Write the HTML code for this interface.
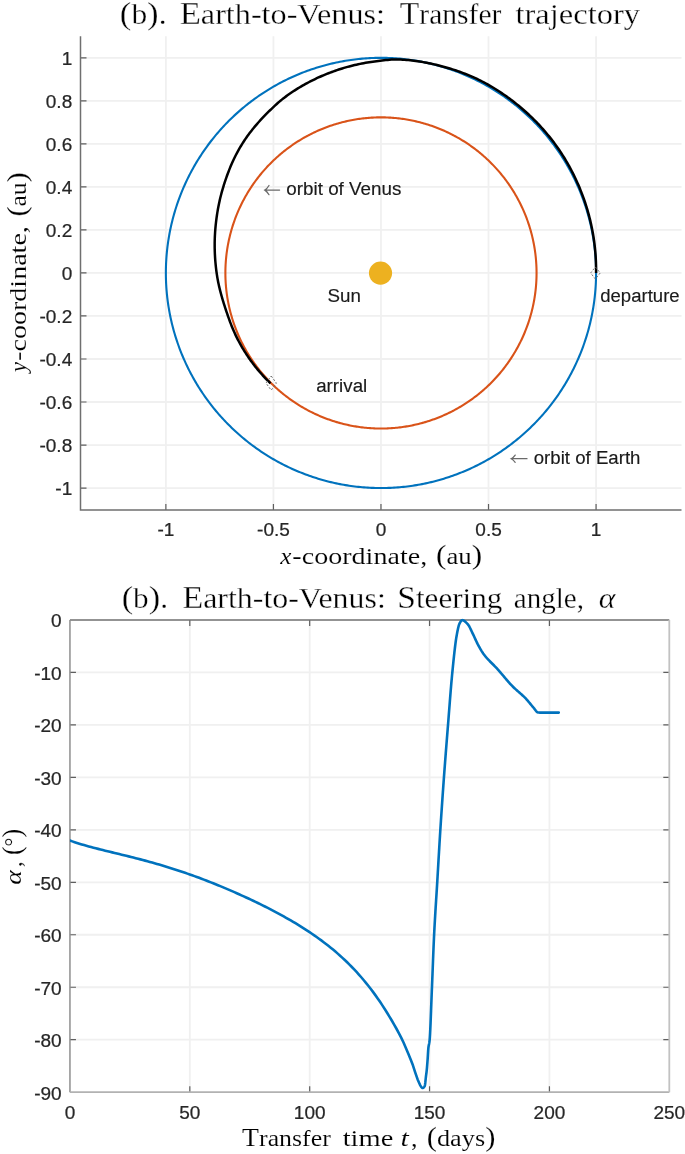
<!DOCTYPE html>
<html><head><meta charset="utf-8"><title>Earth-to-Venus</title>
<style>html,body{margin:0;padding:0;background:#fff;width:685px;height:1154px;overflow:hidden}svg{display:block}</style>
</head><body>
<svg width="685" height="1154" viewBox="0 0 685 1154">
<rect width="685" height="1154" fill="#fff"/>
<path d="M165.87 36.30V509.90M273.42 36.30V509.90M380.97 36.30V509.90M488.52 36.30V509.90M596.07 36.30V509.90M80.50 57.85H681.50M80.50 100.87H681.50M80.50 143.89H681.50M80.50 186.91H681.50M80.50 229.93H681.50M80.50 272.95H681.50M80.50 315.97H681.50M80.50 358.99H681.50M80.50 402.01H681.50M80.50 445.03H681.50M80.50 488.05H681.50" stroke="#f0f0f0" stroke-width="1.8" fill="none"/>
<polyline points="596.07,272.95 596.06,271.07 596.04,269.20 596.00,267.32 595.94,265.44 595.87,263.57 595.78,261.69 595.67,259.82 595.55,257.95 595.41,256.07 595.25,254.20 595.08,252.33 594.89,250.47 594.69,248.60 594.47,246.74 594.23,244.87 593.98,243.01 593.71,241.16 593.42,239.30 593.12,237.45 592.80,235.60 592.47,233.75 592.12,231.91 591.75,230.07 591.37,228.23 590.97,226.39 590.56,224.56 590.13,222.74 589.68,220.91 589.22,219.09 588.74,217.28 588.25,215.47 587.74,213.66 587.21,211.86 586.67,210.06 586.11,208.27 585.54,206.48 584.95,204.70 584.35,202.92 583.73,201.15 583.10,199.38 582.45,197.62 581.78,195.87 581.10,194.12 580.41,192.37 579.70,190.63 578.97,188.90 578.23,187.18 577.47,185.46 576.70,183.75 575.92,182.04 575.12,180.35 574.30,178.66 573.47,176.97 572.63,175.30 571.77,173.63 570.89,171.97 570.00,170.31 569.10,168.67 568.18,167.03 567.25,165.40 566.31,163.78 565.35,162.17 564.37,160.56 563.39,158.96 562.38,157.38 561.37,155.80 560.34,154.23 559.30,152.67 558.24,151.12 557.17,149.57 556.09,148.04 554.99,146.52 553.88,145.00 552.76,143.50 551.62,142.01 550.47,140.52 549.31,139.05 548.13,137.58 546.95,136.13 545.75,134.69 544.53,133.25 543.31,131.83 542.07,130.42 540.82,129.02 539.56,127.63 538.28,126.25 537.00,124.88 535.70,123.53 534.39,122.18 533.07,120.85 531.74,119.53 530.39,118.22 529.04,116.92 527.67,115.64 526.29,114.36 524.90,113.10 523.50,111.85 522.09,110.61 520.67,109.39 519.23,108.17 517.79,106.97 516.34,105.79 514.87,104.61 513.40,103.45 511.91,102.30 510.42,101.16 508.92,100.04 507.40,98.93 505.88,97.83 504.35,96.75 502.80,95.68 501.25,94.62 499.69,93.58 498.12,92.55 496.54,91.54 494.96,90.53 493.36,89.55 491.75,88.57 490.14,87.61 488.52,86.67 486.89,85.74 485.25,84.82 483.61,83.92 481.95,83.03 480.29,82.15 478.62,81.29 476.95,80.45 475.26,79.62 473.57,78.80 471.88,78.00 470.17,77.22 468.46,76.45 466.74,75.69 465.02,74.95 463.29,74.22 461.55,73.51 459.80,72.82 458.05,72.14 456.30,71.47 454.54,70.82 452.77,70.19 451.00,69.57 449.22,68.97 447.44,68.38 445.65,67.81 443.86,67.25 442.06,66.71 440.26,66.18 438.45,65.67 436.64,65.18 434.83,64.70 433.01,64.24 431.18,63.79 429.36,63.36 427.53,62.95 425.69,62.55 423.85,62.17 422.01,61.80 420.17,61.45 418.32,61.12 416.47,60.80 414.62,60.50 412.76,60.21 410.91,59.94 409.05,59.69 407.18,59.45 405.32,59.23 403.45,59.03 401.59,58.84 399.72,58.67 397.85,58.51 395.97,58.37 394.10,58.25 392.23,58.14 390.35,58.05 388.48,57.98 386.60,57.92 384.72,57.88 382.85,57.86 380.97,57.85 379.09,57.86 377.22,57.88 375.34,57.92 373.46,57.98 371.59,58.05 369.71,58.14 367.84,58.25 365.97,58.37 364.09,58.51 362.22,58.67 360.35,58.84 358.49,59.03 356.62,59.23 354.76,59.45 352.89,59.69 351.03,59.94 349.18,60.21 347.32,60.50 345.47,60.80 343.62,61.12 341.77,61.45 339.93,61.80 338.09,62.17 336.25,62.55 334.41,62.95 332.58,63.36 330.76,63.79 328.93,64.24 327.11,64.70 325.30,65.18 323.49,65.67 321.68,66.18 319.88,66.71 318.08,67.25 316.29,67.81 314.50,68.38 312.72,68.97 310.94,69.57 309.17,70.19 307.40,70.82 305.64,71.47 303.89,72.14 302.14,72.82 300.39,73.51 298.65,74.22 296.92,74.95 295.20,75.69 293.48,76.45 291.77,77.22 290.06,78.00 288.37,78.80 286.68,79.62 284.99,80.45 283.32,81.29 281.65,82.15 279.99,83.03 278.33,83.92 276.69,84.82 275.05,85.74 273.42,86.67 271.80,87.61 270.19,88.57 268.58,89.55 266.98,90.53 265.40,91.54 263.82,92.55 262.25,93.58 260.69,94.62 259.14,95.68 257.59,96.75 256.06,97.83 254.54,98.93 253.02,100.04 251.52,101.16 250.03,102.30 248.54,103.45 247.07,104.61 245.60,105.79 244.15,106.97 242.71,108.17 241.27,109.39 239.85,110.61 238.44,111.85 237.04,113.10 235.65,114.36 234.27,115.64 232.90,116.92 231.55,118.22 230.20,119.53 228.87,120.85 227.55,122.18 226.24,123.53 224.94,124.88 223.66,126.25 222.38,127.63 221.12,129.02 219.87,130.42 218.63,131.83 217.41,133.25 216.19,134.69 214.99,136.13 213.81,137.58 212.63,139.05 211.47,140.52 210.32,142.01 209.18,143.50 208.06,145.00 206.95,146.52 205.85,148.04 204.77,149.57 203.70,151.12 202.64,152.67 201.60,154.23 200.57,155.80 199.56,157.38 198.55,158.96 197.57,160.56 196.59,162.17 195.63,163.78 194.69,165.40 193.76,167.03 192.84,168.67 191.94,170.31 191.05,171.97 190.17,173.63 189.31,175.30 188.47,176.97 187.64,178.66 186.82,180.35 186.02,182.04 185.24,183.75 184.47,185.46 183.71,187.18 182.97,188.90 182.24,190.63 181.53,192.37 180.84,194.12 180.16,195.87 179.49,197.62 178.84,199.38 178.21,201.15 177.59,202.92 176.99,204.70 176.40,206.48 175.83,208.27 175.27,210.06 174.73,211.86 174.20,213.66 173.69,215.47 173.20,217.28 172.72,219.09 172.26,220.91 171.81,222.74 171.38,224.56 170.97,226.39 170.57,228.23 170.19,230.07 169.82,231.91 169.47,233.75 169.14,235.60 168.82,237.45 168.52,239.30 168.23,241.16 167.96,243.01 167.71,244.87 167.47,246.74 167.25,248.60 167.05,250.47 166.86,252.33 166.69,254.20 166.53,256.07 166.39,257.95 166.27,259.82 166.16,261.69 166.07,263.57 166.00,265.44 165.94,267.32 165.90,269.20 165.88,271.07 165.87,272.95 165.88,274.83 165.90,276.70 165.94,278.58 166.00,280.46 166.07,282.33 166.16,284.21 166.27,286.08 166.39,287.95 166.53,289.83 166.69,291.70 166.86,293.57 167.05,295.43 167.25,297.30 167.47,299.16 167.71,301.03 167.96,302.89 168.23,304.74 168.52,306.60 168.82,308.45 169.14,310.30 169.47,312.15 169.82,313.99 170.19,315.83 170.57,317.67 170.97,319.51 171.38,321.34 171.81,323.16 172.26,324.99 172.72,326.81 173.20,328.62 173.69,330.43 174.20,332.24 174.73,334.04 175.27,335.84 175.83,337.63 176.40,339.42 176.99,341.20 177.59,342.98 178.21,344.75 178.84,346.52 179.49,348.28 180.16,350.03 180.84,351.78 181.53,353.53 182.24,355.27 182.97,357.00 183.71,358.72 184.47,360.44 185.24,362.15 186.02,363.86 186.82,365.55 187.64,367.24 188.47,368.93 189.31,370.60 190.17,372.27 191.05,373.93 191.94,375.59 192.84,377.23 193.76,378.87 194.69,380.50 195.63,382.12 196.59,383.73 197.57,385.34 198.55,386.94 199.56,388.52 200.57,390.10 201.60,391.67 202.64,393.23 203.70,394.78 204.77,396.33 205.85,397.86 206.95,399.38 208.06,400.90 209.18,402.40 210.32,403.89 211.47,405.38 212.63,406.85 213.81,408.32 214.99,409.77 216.19,411.21 217.41,412.65 218.63,414.07 219.87,415.48 221.12,416.88 222.38,418.27 223.66,419.65 224.94,421.02 226.24,422.37 227.55,423.72 228.87,425.05 230.20,426.37 231.55,427.68 232.90,428.98 234.27,430.26 235.65,431.54 237.04,432.80 238.44,434.05 239.85,435.29 241.27,436.51 242.71,437.73 244.15,438.93 245.60,440.11 247.07,441.29 248.54,442.45 250.03,443.60 251.52,444.74 253.02,445.86 254.54,446.97 256.06,448.07 257.59,449.15 259.14,450.22 260.69,451.28 262.25,452.32 263.82,453.35 265.40,454.36 266.98,455.37 268.58,456.35 270.19,457.33 271.80,458.29 273.42,459.23 275.05,460.16 276.69,461.08 278.33,461.98 279.99,462.87 281.65,463.75 283.32,464.61 284.99,465.45 286.68,466.28 288.37,467.10 290.06,467.90 291.77,468.68 293.48,469.45 295.20,470.21 296.92,470.95 298.65,471.68 300.39,472.39 302.14,473.08 303.89,473.76 305.64,474.43 307.40,475.08 309.17,475.71 310.94,476.33 312.72,476.93 314.50,477.52 316.29,478.09 318.08,478.65 319.88,479.19 321.68,479.72 323.49,480.23 325.30,480.72 327.11,481.20 328.93,481.66 330.76,482.11 332.58,482.54 334.41,482.95 336.25,483.35 338.09,483.73 339.93,484.10 341.77,484.45 343.62,484.78 345.47,485.10 347.32,485.40 349.18,485.69 351.03,485.96 352.89,486.21 354.76,486.45 356.62,486.67 358.49,486.87 360.35,487.06 362.22,487.23 364.09,487.39 365.97,487.53 367.84,487.65 369.71,487.76 371.59,487.85 373.46,487.92 375.34,487.98 377.22,488.02 379.09,488.04 380.97,488.05 382.85,488.04 384.72,488.02 386.60,487.98 388.48,487.92 390.35,487.85 392.23,487.76 394.10,487.65 395.97,487.53 397.85,487.39 399.72,487.23 401.59,487.06 403.45,486.87 405.32,486.67 407.18,486.45 409.05,486.21 410.91,485.96 412.76,485.69 414.62,485.40 416.47,485.10 418.32,484.78 420.17,484.45 422.01,484.10 423.85,483.73 425.69,483.35 427.53,482.95 429.36,482.54 431.18,482.11 433.01,481.66 434.83,481.20 436.64,480.72 438.45,480.23 440.26,479.72 442.06,479.19 443.86,478.65 445.65,478.09 447.44,477.52 449.22,476.93 451.00,476.33 452.77,475.71 454.54,475.08 456.30,474.43 458.05,473.76 459.80,473.08 461.55,472.39 463.29,471.68 465.02,470.95 466.74,470.21 468.46,469.45 470.17,468.68 471.88,467.90 473.57,467.10 475.26,466.28 476.95,465.45 478.62,464.61 480.29,463.75 481.95,462.87 483.61,461.98 485.25,461.08 486.89,460.16 488.52,459.23 490.14,458.29 491.75,457.33 493.36,456.35 494.96,455.37 496.54,454.36 498.12,453.35 499.69,452.32 501.25,451.28 502.80,450.22 504.35,449.15 505.88,448.07 507.40,446.97 508.92,445.86 510.42,444.74 511.91,443.60 513.40,442.45 514.87,441.29 516.34,440.11 517.79,438.93 519.23,437.73 520.67,436.51 522.09,435.29 523.50,434.05 524.90,432.80 526.29,431.54 527.67,430.26 529.04,428.98 530.39,427.68 531.74,426.37 533.07,425.05 534.39,423.72 535.70,422.37 537.00,421.02 538.28,419.65 539.56,418.27 540.82,416.88 542.07,415.48 543.31,414.07 544.53,412.65 545.75,411.21 546.95,409.77 548.13,408.32 549.31,406.85 550.47,405.38 551.62,403.89 552.76,402.40 553.88,400.90 554.99,399.38 556.09,397.86 557.17,396.33 558.24,394.78 559.30,393.23 560.34,391.67 561.37,390.10 562.38,388.52 563.39,386.94 564.37,385.34 565.35,383.73 566.31,382.12 567.25,380.50 568.18,378.87 569.10,377.23 570.00,375.59 570.89,373.93 571.77,372.27 572.63,370.60 573.47,368.93 574.30,367.24 575.12,365.55 575.92,363.86 576.70,362.15 577.47,360.44 578.23,358.72 578.97,357.00 579.70,355.27 580.41,353.53 581.10,351.78 581.78,350.03 582.45,348.28 583.10,346.52 583.73,344.75 584.35,342.98 584.95,341.20 585.54,339.42 586.11,337.63 586.67,335.84 587.21,334.04 587.74,332.24 588.25,330.43 588.74,328.62 589.22,326.81 589.68,324.99 590.13,323.16 590.56,321.34 590.97,319.51 591.37,317.67 591.75,315.83 592.12,313.99 592.47,312.15 592.80,310.30 593.12,308.45 593.42,306.60 593.71,304.74 593.98,302.89 594.23,301.03 594.47,299.16 594.69,297.30 594.89,295.43 595.08,293.57 595.25,291.70 595.41,289.83 595.55,287.95 595.67,286.08 595.78,284.21 595.87,282.33 595.94,280.46 596.00,278.58 596.04,276.70 596.06,274.83 596.07,272.95" fill="none" stroke="#0072BD" stroke-width="2.1"/>
<polyline points="536.55,272.95 536.55,271.59 536.53,270.23 536.50,268.88 536.46,267.52 536.40,266.16 536.34,264.81 536.26,263.45 536.17,262.10 536.07,260.74 535.96,259.39 535.84,258.04 535.70,256.69 535.55,255.34 535.39,253.99 535.22,252.64 535.04,251.30 534.84,249.95 534.64,248.61 534.42,247.27 534.19,245.93 533.95,244.60 533.69,243.26 533.43,241.93 533.15,240.60 532.86,239.28 532.56,237.95 532.25,236.63 531.93,235.31 531.60,234.00 531.25,232.68 530.89,231.37 530.52,230.07 530.14,228.76 529.75,227.46 529.35,226.17 528.94,224.87 528.51,223.58 528.08,222.30 527.63,221.02 527.17,219.74 526.70,218.46 526.22,217.19 525.73,215.93 525.22,214.67 524.71,213.41 524.18,212.16 523.65,210.91 523.10,209.67 522.54,208.43 521.98,207.20 521.40,205.97 520.81,204.75 520.21,203.53 519.59,202.32 518.97,201.11 518.34,199.91 517.70,198.71 517.04,197.52 516.38,196.34 515.71,195.16 515.02,193.99 514.33,192.82 513.63,191.66 512.91,190.50 512.19,189.36 511.45,188.21 510.71,187.08 509.95,185.95 509.19,184.83 508.42,183.71 507.63,182.60 506.84,181.50 506.04,180.41 505.22,179.32 504.40,178.24 503.57,177.16 502.73,176.10 501.88,175.04 501.02,173.99 500.15,172.94 499.28,171.91 498.39,170.88 497.49,169.86 496.59,168.85 495.68,167.84 494.76,166.84 493.83,165.85 492.89,164.87 491.94,163.90 490.98,162.94 490.02,161.98 489.05,161.03 488.07,160.09 487.08,159.16 486.08,158.24 485.07,157.33 484.06,156.43 483.04,155.53 482.01,154.64 480.98,153.77 479.93,152.90 478.88,152.04 477.82,151.19 476.76,150.35 475.68,149.52 474.60,148.70 473.51,147.88 472.42,147.08 471.32,146.29 470.21,145.50 469.09,144.73 467.97,143.97 466.84,143.21 465.71,142.47 464.56,141.73 463.42,141.01 462.26,140.29 461.10,139.59 459.93,138.90 458.76,138.21 457.58,137.54 456.40,136.88 455.21,136.22 454.01,135.58 452.81,134.95 451.60,134.33 450.39,133.71 449.17,133.11 447.95,132.52 446.72,131.94 445.49,131.38 444.25,130.82 443.01,130.27 441.76,129.74 440.51,129.21 439.25,128.70 437.99,128.19 436.73,127.70 435.46,127.22 434.18,126.75 432.90,126.29 431.62,125.84 430.34,125.41 429.05,124.98 427.75,124.57 426.46,124.17 425.16,123.78 423.85,123.40 422.55,123.03 421.24,122.67 419.92,122.32 418.61,121.99 417.29,121.67 415.97,121.36 414.64,121.06 413.32,120.77 411.99,120.49 410.66,120.23 409.32,119.97 407.99,119.73 406.65,119.50 405.31,119.28 403.97,119.08 402.62,118.88 401.28,118.70 399.93,118.53 398.58,118.37 397.23,118.22 395.88,118.08 394.53,117.96 393.18,117.85 391.82,117.75 390.47,117.66 389.11,117.58 387.76,117.52 386.40,117.46 385.04,117.42 383.69,117.39 382.33,117.37 380.97,117.37 379.61,117.37 378.25,117.39 376.90,117.42 375.54,117.46 374.18,117.52 372.83,117.58 371.47,117.66 370.12,117.75 368.76,117.85 367.41,117.96 366.06,118.08 364.71,118.22 363.36,118.37 362.01,118.53 360.66,118.70 359.32,118.88 357.97,119.08 356.63,119.28 355.29,119.50 353.95,119.73 352.62,119.97 351.28,120.23 349.95,120.49 348.62,120.77 347.30,121.06 345.97,121.36 344.65,121.67 343.33,121.99 342.02,122.32 340.70,122.67 339.39,123.03 338.09,123.40 336.78,123.78 335.48,124.17 334.19,124.57 332.89,124.98 331.60,125.41 330.32,125.84 329.04,126.29 327.76,126.75 326.48,127.22 325.21,127.70 323.95,128.19 322.69,128.70 321.43,129.21 320.18,129.74 318.93,130.27 317.69,130.82 316.45,131.38 315.22,131.94 313.99,132.52 312.77,133.11 311.55,133.71 310.34,134.33 309.13,134.95 307.93,135.58 306.73,136.22 305.54,136.88 304.36,137.54 303.18,138.21 302.01,138.90 300.84,139.59 299.68,140.29 298.52,141.01 297.38,141.73 296.23,142.47 295.10,143.21 293.97,143.97 292.85,144.73 291.73,145.50 290.62,146.29 289.52,147.08 288.43,147.88 287.34,148.70 286.26,149.52 285.18,150.35 284.12,151.19 283.06,152.04 282.01,152.90 280.96,153.77 279.93,154.64 278.90,155.53 277.88,156.43 276.87,157.33 275.86,158.24 274.86,159.16 273.87,160.09 272.89,161.03 271.92,161.98 270.96,162.94 270.00,163.90 269.05,164.87 268.11,165.85 267.18,166.84 266.26,167.84 265.35,168.85 264.45,169.86 263.55,170.88 262.66,171.91 261.79,172.94 260.92,173.99 260.06,175.04 259.21,176.10 258.37,177.16 257.54,178.24 256.72,179.32 255.90,180.41 255.10,181.50 254.31,182.60 253.52,183.71 252.75,184.83 251.99,185.95 251.23,187.08 250.49,188.21 249.75,189.36 249.03,190.50 248.31,191.66 247.61,192.82 246.92,193.99 246.23,195.16 245.56,196.34 244.90,197.52 244.24,198.71 243.60,199.91 242.97,201.11 242.35,202.32 241.73,203.53 241.13,204.75 240.54,205.97 239.96,207.20 239.40,208.43 238.84,209.67 238.29,210.91 237.76,212.16 237.23,213.41 236.72,214.67 236.21,215.93 235.72,217.19 235.24,218.46 234.77,219.74 234.31,221.02 233.86,222.30 233.43,223.58 233.00,224.87 232.59,226.17 232.19,227.46 231.80,228.76 231.42,230.07 231.05,231.37 230.69,232.68 230.34,234.00 230.01,235.31 229.69,236.63 229.38,237.95 229.08,239.28 228.79,240.60 228.51,241.93 228.25,243.26 227.99,244.60 227.75,245.93 227.52,247.27 227.30,248.61 227.10,249.95 226.90,251.30 226.72,252.64 226.55,253.99 226.39,255.34 226.24,256.69 226.10,258.04 225.98,259.39 225.87,260.74 225.77,262.10 225.68,263.45 225.60,264.81 225.54,266.16 225.48,267.52 225.44,268.88 225.41,270.23 225.39,271.59 225.39,272.95 225.39,274.31 225.41,275.67 225.44,277.02 225.48,278.38 225.54,279.74 225.60,281.09 225.68,282.45 225.77,283.80 225.87,285.16 225.98,286.51 226.10,287.86 226.24,289.21 226.39,290.56 226.55,291.91 226.72,293.26 226.90,294.60 227.10,295.95 227.30,297.29 227.52,298.63 227.75,299.97 227.99,301.30 228.25,302.64 228.51,303.97 228.79,305.30 229.08,306.62 229.38,307.95 229.69,309.27 230.01,310.59 230.34,311.90 230.69,313.22 231.05,314.53 231.42,315.83 231.80,317.14 232.19,318.44 232.59,319.73 233.00,321.03 233.43,322.32 233.86,323.60 234.31,324.88 234.77,326.16 235.24,327.44 235.72,328.71 236.21,329.97 236.72,331.23 237.23,332.49 237.76,333.74 238.29,334.99 238.84,336.23 239.40,337.47 239.96,338.70 240.54,339.93 241.13,341.15 241.73,342.37 242.35,343.58 242.97,344.79 243.60,345.99 244.24,347.19 244.90,348.38 245.56,349.56 246.23,350.74 246.92,351.91 247.61,353.08 248.31,354.24 249.03,355.40 249.75,356.54 250.49,357.69 251.23,358.82 251.99,359.95 252.75,361.07 253.52,362.19 254.31,363.30 255.10,364.40 255.90,365.49 256.72,366.58 257.54,367.66 258.37,368.74 259.21,369.80 260.06,370.86 260.92,371.91 261.79,372.96 262.66,373.99 263.55,375.02 264.45,376.04 265.35,377.05 266.26,378.06 267.18,379.06 268.11,380.05 269.05,381.03 270.00,382.00 270.96,382.96 271.92,383.92 272.89,384.87 273.87,385.81 274.86,386.74 275.86,387.66 276.87,388.57 277.88,389.47 278.90,390.37 279.93,391.26 280.96,392.13 282.01,393.00 283.06,393.86 284.12,394.71 285.18,395.55 286.26,396.38 287.34,397.20 288.43,398.02 289.52,398.82 290.62,399.61 291.73,400.40 292.85,401.17 293.97,401.93 295.10,402.69 296.23,403.43 297.38,404.17 298.52,404.89 299.68,405.61 300.84,406.31 302.01,407.00 303.18,407.69 304.36,408.36 305.54,409.02 306.73,409.68 307.93,410.32 309.13,410.95 310.34,411.57 311.55,412.19 312.77,412.79 313.99,413.38 315.22,413.96 316.45,414.52 317.69,415.08 318.93,415.63 320.18,416.16 321.43,416.69 322.69,417.20 323.95,417.71 325.21,418.20 326.48,418.68 327.76,419.15 329.04,419.61 330.32,420.06 331.60,420.49 332.89,420.92 334.19,421.33 335.48,421.73 336.78,422.12 338.09,422.50 339.39,422.87 340.70,423.23 342.02,423.58 343.33,423.91 344.65,424.23 345.97,424.54 347.30,424.84 348.62,425.13 349.95,425.41 351.28,425.67 352.62,425.93 353.95,426.17 355.29,426.40 356.63,426.62 357.97,426.82 359.32,427.02 360.66,427.20 362.01,427.37 363.36,427.53 364.71,427.68 366.06,427.82 367.41,427.94 368.76,428.05 370.12,428.15 371.47,428.24 372.83,428.32 374.18,428.38 375.54,428.44 376.90,428.48 378.25,428.51 379.61,428.53 380.97,428.53 382.33,428.53 383.69,428.51 385.04,428.48 386.40,428.44 387.76,428.38 389.11,428.32 390.47,428.24 391.82,428.15 393.18,428.05 394.53,427.94 395.88,427.82 397.23,427.68 398.58,427.53 399.93,427.37 401.28,427.20 402.62,427.02 403.97,426.82 405.31,426.62 406.65,426.40 407.99,426.17 409.32,425.93 410.66,425.67 411.99,425.41 413.32,425.13 414.64,424.84 415.97,424.54 417.29,424.23 418.61,423.91 419.92,423.58 421.24,423.23 422.55,422.87 423.85,422.50 425.16,422.12 426.46,421.73 427.75,421.33 429.05,420.92 430.34,420.49 431.62,420.06 432.90,419.61 434.18,419.15 435.46,418.68 436.73,418.20 437.99,417.71 439.25,417.20 440.51,416.69 441.76,416.16 443.01,415.63 444.25,415.08 445.49,414.52 446.72,413.96 447.95,413.38 449.17,412.79 450.39,412.19 451.60,411.57 452.81,410.95 454.01,410.32 455.21,409.68 456.40,409.02 457.58,408.36 458.76,407.69 459.93,407.00 461.10,406.31 462.26,405.61 463.42,404.89 464.56,404.17 465.71,403.43 466.84,402.69 467.97,401.93 469.09,401.17 470.21,400.40 471.32,399.61 472.42,398.82 473.51,398.02 474.60,397.20 475.68,396.38 476.76,395.55 477.82,394.71 478.88,393.86 479.93,393.00 480.98,392.13 482.01,391.26 483.04,390.37 484.06,389.47 485.07,388.57 486.08,387.66 487.08,386.74 488.07,385.81 489.05,384.87 490.02,383.92 490.98,382.96 491.94,382.00 492.89,381.03 493.83,380.05 494.76,379.06 495.68,378.06 496.59,377.05 497.49,376.04 498.39,375.02 499.28,373.99 500.15,372.96 501.02,371.91 501.88,370.86 502.73,369.80 503.57,368.74 504.40,367.66 505.22,366.58 506.04,365.49 506.84,364.40 507.63,363.30 508.42,362.19 509.19,361.07 509.95,359.95 510.71,358.82 511.45,357.69 512.19,356.54 512.91,355.40 513.63,354.24 514.33,353.08 515.02,351.91 515.71,350.74 516.38,349.56 517.04,348.38 517.70,347.19 518.34,345.99 518.97,344.79 519.59,343.58 520.21,342.37 520.81,341.15 521.40,339.93 521.98,338.70 522.54,337.47 523.10,336.23 523.65,334.99 524.18,333.74 524.71,332.49 525.22,331.23 525.73,329.97 526.22,328.71 526.70,327.44 527.17,326.16 527.63,324.88 528.08,323.60 528.51,322.32 528.94,321.03 529.35,319.73 529.75,318.44 530.14,317.14 530.52,315.83 530.89,314.53 531.25,313.22 531.60,311.90 531.93,310.59 532.25,309.27 532.56,307.95 532.86,306.62 533.15,305.30 533.43,303.97 533.69,302.64 533.95,301.30 534.19,299.97 534.42,298.63 534.64,297.29 534.84,295.95 535.04,294.60 535.22,293.26 535.39,291.91 535.55,290.56 535.70,289.21 535.84,287.86 535.96,286.51 536.07,285.16 536.17,283.80 536.26,282.45 536.34,281.09 536.40,279.74 536.46,278.38 536.50,277.02 536.53,275.67 536.55,274.31 536.55,272.95" fill="none" stroke="#D95319" stroke-width="2.1"/>
<polyline points="596.07,272.95 596.09,271.07 596.09,269.19 596.07,267.30 596.03,265.42 595.98,263.54 595.92,261.66 595.83,259.78 595.73,257.90 595.62,256.02 595.48,254.14 595.33,252.26 595.17,250.39 594.98,248.51 594.78,246.64 594.57,244.77 594.34,242.90 594.09,241.03 593.82,239.16 593.54,237.30 593.24,235.44 592.93,233.58 592.59,231.72 592.25,229.87 591.88,228.02 591.50,226.17 591.10,224.32 590.69,222.48 590.26,220.65 589.82,218.81 589.35,216.98 588.88,215.16 588.38,213.34 587.87,211.52 587.34,209.71 586.80,207.90 586.24,206.09 585.67,204.29 585.08,202.50 584.47,200.71 583.85,198.93 583.21,197.15 582.56,195.38 581.89,193.61 581.21,191.85 580.51,190.09 579.80,188.34 579.07,186.60 578.33,184.86 577.57,183.13 576.80,181.40 576.01,179.68 575.20,177.97 574.38,176.27 573.55,174.57 572.70,172.88 571.84,171.20 570.96,169.52 570.06,167.85 569.16,166.19 568.23,164.54 567.29,162.90 566.34,161.26 565.37,159.64 564.39,158.02 563.39,156.41 562.38,154.81 561.35,153.22 560.31,151.64 559.25,150.07 558.18,148.51 557.10,146.95 556.00,145.41 554.88,143.88 553.75,142.36 552.61,140.85 551.45,139.35 550.28,137.86 549.10,136.38 547.90,134.92 546.68,133.46 545.46,132.02 544.22,130.58 542.97,129.16 541.70,127.75 540.43,126.35 539.14,124.96 537.84,123.58 536.53,122.22 535.20,120.86 533.87,119.52 532.52,118.19 531.16,116.87 529.79,115.56 528.41,114.26 527.01,112.98 525.61,111.71 524.19,110.45 522.76,109.21 521.33,107.97 519.88,106.75 518.42,105.54 516.95,104.35 515.47,103.16 513.98,101.99 512.48,100.84 510.97,99.69 509.45,98.56 507.92,97.45 506.38,96.34 504.83,95.25 503.27,94.18 501.70,93.11 500.13,92.06 498.54,91.03 496.94,90.01 495.34,89.00 493.73,88.01 492.10,87.03 490.47,86.06 488.83,85.11 487.19,84.18 485.53,83.27 483.86,82.37 482.18,81.49 480.49,80.64 478.79,79.80 477.08,78.98 475.37,78.17 473.65,77.39 471.92,76.62 470.18,75.88 468.43,75.14 466.68,74.43 464.92,73.74 463.15,73.06 461.38,72.40 459.61,71.75 457.82,71.12 456.04,70.51 454.24,69.92 452.45,69.34 450.64,68.78 448.84,68.23 447.03,67.70 445.21,67.18 443.39,66.68 441.57,66.20 439.75,65.72 437.92,65.27 436.09,64.83 434.25,64.40 432.42,63.98 430.58,63.58 428.73,63.20 426.89,62.83 425.04,62.48 423.19,62.14 421.34,61.83 419.48,61.53 417.62,61.24 415.76,60.98 413.90,60.73 412.03,60.51 410.17,60.30 408.30,60.11 406.43,59.95 404.55,59.80 402.68,59.68 400.81,59.58 398.93,59.50 397.06,59.44 395.18,59.43 393.31,59.48 391.43,59.58 389.55,59.72 387.68,59.89 385.81,60.08 383.95,60.28 382.08,60.50 380.23,60.71 378.37,60.93 376.52,61.16 374.68,61.40 372.83,61.66 371.00,61.93 369.16,62.21 367.33,62.52 365.51,62.83 363.68,63.17 361.87,63.51 360.06,63.88 358.25,64.26 356.45,64.66 354.65,65.07 352.86,65.51 351.07,65.95 349.30,66.42 347.52,66.90 345.76,67.40 343.99,67.92 342.24,68.45 340.49,68.99 338.75,69.55 337.02,70.13 335.29,70.72 333.57,71.33 331.86,71.95 330.15,72.59 328.46,73.24 326.77,73.91 325.08,74.60 323.41,75.29 321.75,76.01 320.09,76.74 318.44,77.48 316.80,78.24 315.17,79.02 313.55,79.80 311.94,80.61 310.33,81.43 308.74,82.26 307.15,83.10 305.58,83.96 304.01,84.83 302.45,85.71 300.91,86.61 299.37,87.52 297.84,88.44 296.32,89.38 294.82,90.34 293.33,91.30 291.84,92.29 290.37,93.28 288.92,94.30 287.47,95.33 286.04,96.37 284.62,97.43 283.22,98.51 281.83,99.61 280.46,100.72 279.10,101.86 277.78,103.02 276.47,104.21 275.17,105.41 273.89,106.62 272.61,107.82 271.34,109.03 270.08,110.24 268.83,111.46 267.59,112.69 266.36,113.92 265.14,115.16 263.94,116.41 262.75,117.66 261.57,118.93 260.40,120.20 259.24,121.48 258.10,122.76 256.97,124.06 255.85,125.36 254.75,126.67 253.66,127.99 252.59,129.32 251.52,130.66 250.48,132.01 249.45,133.36 248.43,134.73 247.43,136.10 246.45,137.49 245.48,138.88 244.53,140.28 243.60,141.69 242.68,143.11 241.79,144.54 240.91,145.98 240.04,147.42 239.20,148.88 238.38,150.34 237.57,151.81 236.78,153.29 236.01,154.78 235.26,156.27 234.52,157.77 233.80,159.27 233.10,160.78 232.41,162.29 231.74,163.81 231.08,165.33 230.44,166.85 229.81,168.37 229.20,169.90 228.61,171.43 228.02,172.96 227.45,174.50 226.90,176.03 226.35,177.57 225.82,179.10 225.30,180.64 224.79,182.17 224.30,183.71 223.81,185.24 223.34,186.78 222.87,188.31 222.42,189.85 221.99,191.38 221.56,192.92 221.16,194.46 220.76,196.00 220.38,197.53 220.01,199.07 219.66,200.61 219.32,202.15 218.99,203.69 218.68,205.23 218.38,206.76 218.09,208.30 217.81,209.84 217.55,211.37 217.29,212.91 217.05,214.44 216.83,215.97 216.61,217.50 216.41,219.03 216.21,220.56 216.03,222.09 215.86,223.61 215.70,225.14 215.55,226.66 215.41,228.18 215.29,229.69 215.17,231.21 215.07,232.72 214.98,234.23 214.90,235.74 214.83,237.25 214.78,238.76 214.73,240.26 214.70,241.76 214.68,243.26 214.68,244.76 214.68,246.25 214.69,247.75 214.72,249.24 214.76,250.72 214.81,252.21 214.87,253.69 214.94,255.17 215.02,256.64 215.11,258.11 215.21,259.58 215.33,261.05 215.45,262.51 215.58,263.97 215.73,265.43 215.88,266.88 216.05,268.33 216.22,269.78 216.40,271.22 216.59,272.66 216.80,274.10 217.02,275.53 217.25,276.96 217.49,278.39 217.75,279.81 218.02,281.22 218.31,282.64 218.60,284.04 218.91,285.45 219.23,286.85 219.56,288.24 219.89,289.63 220.24,291.02 220.60,292.40 220.97,293.78 221.34,295.15 221.73,296.52 222.12,297.88 222.51,299.24 222.92,300.60 223.33,301.95 223.75,303.30 224.17,304.64 224.60,305.98 225.03,307.31 225.46,308.65 225.91,309.98 226.35,311.30 226.80,312.63 227.25,313.95 227.70,315.27 228.16,316.58 228.62,317.90 229.08,319.21 229.56,320.51 230.04,321.82 230.53,323.11 231.03,324.41 231.53,325.70 232.05,326.99 232.57,328.27 233.11,329.55 233.66,330.82 234.22,332.09 234.79,333.35 235.37,334.61 235.97,335.85 236.57,337.10 237.19,338.33 237.82,339.57 238.46,340.79 239.11,342.01 239.77,343.22 240.44,344.43 241.12,345.63 241.81,346.82 242.51,348.01 243.22,349.19 243.94,350.37 244.67,351.54 245.41,352.70 246.15,353.86 246.91,355.01 247.67,356.15 248.44,357.29 249.22,358.42 250.01,359.55 250.81,360.66 251.62,361.77 252.43,362.88 253.26,363.97 254.09,365.06 254.94,366.15 255.79,367.22 256.65,368.29 257.52,369.35 258.40,370.40 259.28,371.44 260.18,372.48 261.08,373.51 261.99,374.53 262.91,375.55 263.84,376.55 264.77,377.55 265.71,378.54 266.67,379.52 267.62,380.50 268.59,381.46 269.56,382.42 270.55,383.37" fill="none" stroke="#000" stroke-width="2.5" stroke-linejoin="round"/>
<circle cx="380.52" cy="273.10" r="11.6" fill="#EDB120"/>
<path transform="rotate(0 595.40 273.00)" d="M595.40 267.00L600.20 273.00L595.40 279.00L590.60 273.00Z" fill="none" stroke="#666" stroke-width="0.9" stroke-dasharray="2.2 1.6"/>
<path transform="rotate(0 271.20 383.10)" d="M271.20 376.00L276.40 383.10L271.20 390.20L266.00 383.10Z" fill="none" stroke="#666" stroke-width="0.9" stroke-dasharray="2.2 1.6"/>
<path d="M165.87 509.90V503.90M273.42 509.90V503.90M380.97 509.90V503.90M488.52 509.90V503.90M596.07 509.90V503.90M80.50 57.85H86.50M80.50 100.87H86.50M80.50 143.89H86.50M80.50 186.91H86.50M80.50 229.93H86.50M80.50 272.95H86.50M80.50 315.97H86.50M80.50 358.99H86.50M80.50 402.01H86.50M80.50 445.03H86.50M80.50 488.05H86.50" stroke="#5e5e5e" stroke-width="1.2" fill="none"/>
<path d="M80.50 36.30V509.90H681.50" stroke="#6f6f6f" stroke-width="1.5" fill="none"/>
<text transform="translate(72.20 65.25) scale(1.08 1)" text-anchor="end" style="font-family:'Liberation Sans',Arial,sans-serif;font-size:17.6px" fill="#262626" stroke="#262626" stroke-width="0.22">1</text>
<text transform="translate(72.20 108.27) scale(1.08 1)" text-anchor="end" style="font-family:'Liberation Sans',Arial,sans-serif;font-size:17.6px" fill="#262626" stroke="#262626" stroke-width="0.22">0.8</text>
<text transform="translate(72.20 151.29) scale(1.08 1)" text-anchor="end" style="font-family:'Liberation Sans',Arial,sans-serif;font-size:17.6px" fill="#262626" stroke="#262626" stroke-width="0.22">0.6</text>
<text transform="translate(72.20 194.31) scale(1.08 1)" text-anchor="end" style="font-family:'Liberation Sans',Arial,sans-serif;font-size:17.6px" fill="#262626" stroke="#262626" stroke-width="0.22">0.4</text>
<text transform="translate(72.20 237.33) scale(1.08 1)" text-anchor="end" style="font-family:'Liberation Sans',Arial,sans-serif;font-size:17.6px" fill="#262626" stroke="#262626" stroke-width="0.22">0.2</text>
<text transform="translate(72.20 280.35) scale(1.08 1)" text-anchor="end" style="font-family:'Liberation Sans',Arial,sans-serif;font-size:17.6px" fill="#262626" stroke="#262626" stroke-width="0.22">0</text>
<text transform="translate(72.20 323.37) scale(1.08 1)" text-anchor="end" style="font-family:'Liberation Sans',Arial,sans-serif;font-size:17.6px" fill="#262626" stroke="#262626" stroke-width="0.22">-0.2</text>
<text transform="translate(72.20 366.39) scale(1.08 1)" text-anchor="end" style="font-family:'Liberation Sans',Arial,sans-serif;font-size:17.6px" fill="#262626" stroke="#262626" stroke-width="0.22">-0.4</text>
<text transform="translate(72.20 409.41) scale(1.08 1)" text-anchor="end" style="font-family:'Liberation Sans',Arial,sans-serif;font-size:17.6px" fill="#262626" stroke="#262626" stroke-width="0.22">-0.6</text>
<text transform="translate(72.20 452.43) scale(1.08 1)" text-anchor="end" style="font-family:'Liberation Sans',Arial,sans-serif;font-size:17.6px" fill="#262626" stroke="#262626" stroke-width="0.22">-0.8</text>
<text transform="translate(72.20 495.45) scale(1.08 1)" text-anchor="end" style="font-family:'Liberation Sans',Arial,sans-serif;font-size:17.6px" fill="#262626" stroke="#262626" stroke-width="0.22">-1</text>
<text transform="translate(165.87 535.60) scale(1.08 1)" text-anchor="middle" style="font-family:'Liberation Sans',Arial,sans-serif;font-size:17.6px" fill="#262626" stroke="#262626" stroke-width="0.22">-1</text>
<text transform="translate(273.42 535.60) scale(1.08 1)" text-anchor="middle" style="font-family:'Liberation Sans',Arial,sans-serif;font-size:17.6px" fill="#262626" stroke="#262626" stroke-width="0.22">-0.5</text>
<text transform="translate(380.97 535.60) scale(1.08 1)" text-anchor="middle" style="font-family:'Liberation Sans',Arial,sans-serif;font-size:17.6px" fill="#262626" stroke="#262626" stroke-width="0.22">0</text>
<text transform="translate(488.52 535.60) scale(1.08 1)" text-anchor="middle" style="font-family:'Liberation Sans',Arial,sans-serif;font-size:17.6px" fill="#262626" stroke="#262626" stroke-width="0.22">0.5</text>
<text transform="translate(596.07 535.60) scale(1.08 1)" text-anchor="middle" style="font-family:'Liberation Sans',Arial,sans-serif;font-size:17.6px" fill="#262626" stroke="#262626" stroke-width="0.22">1</text>
<text transform="translate(286.30 195.00) scale(1.07 1)" text-anchor="start" style="font-family:'Liberation Sans',Arial,sans-serif;font-size:17.6px" fill="#1a1a1a" stroke="#1a1a1a" stroke-width="0.15">orbit of Venus</text>
<text transform="translate(327.60 302.30) scale(1.065 1)" text-anchor="start" style="font-family:'Liberation Sans',Arial,sans-serif;font-size:17.6px" fill="#1a1a1a" stroke="#1a1a1a" stroke-width="0.15">Sun</text>
<text transform="translate(600.20 302.20) scale(1.055 1)" text-anchor="start" style="font-family:'Liberation Sans',Arial,sans-serif;font-size:17.6px" fill="#1a1a1a" stroke="#1a1a1a" stroke-width="0.15">departure</text>
<text transform="translate(316.20 392.20) scale(1.065 1)" text-anchor="start" style="font-family:'Liberation Sans',Arial,sans-serif;font-size:17.6px" fill="#1a1a1a" stroke="#1a1a1a" stroke-width="0.15">arrival</text>
<text transform="translate(533.70 463.50) scale(1.06 1)" text-anchor="start" style="font-family:'Liberation Sans',Arial,sans-serif;font-size:17.6px" fill="#1a1a1a" stroke="#1a1a1a" stroke-width="0.15">orbit of Earth</text>
<path d="M279.60 190.10H265.30M269.00 185.50Q266.90 188.95 264.80 190.10Q266.90 191.25 269.00 194.70" stroke="#6a6a6a" stroke-width="1.25" fill="none" stroke-linecap="round"/>
<path d="M527.00 458.70H511.70M515.20 455.10Q513.20 457.80 511.20 458.70Q513.20 459.60 515.20 462.30" stroke="#6a6a6a" stroke-width="1.25" fill="none" stroke-linecap="round"/>
<path d="M189.82 619.90V1092.20M309.69 619.90V1092.20M429.56 619.90V1092.20M549.43 619.90V1092.20M69.95 672.38H669.30M69.95 724.86H669.30M69.95 777.33H669.30M69.95 829.81H669.30M69.95 882.29H669.30M69.95 934.77H669.30M69.95 987.24H669.30M69.95 1039.72H669.30" stroke="#f0f0f0" stroke-width="1.8" fill="none"/>
<path d="M189.82 1092.20V1086.20M189.82 619.90V625.90M309.69 1092.20V1086.20M309.69 619.90V625.90M429.56 1092.20V1086.20M429.56 619.90V625.90M549.43 1092.20V1086.20M549.43 619.90V625.90M69.95 672.38H75.95M669.30 672.38H663.30M69.95 724.86H75.95M669.30 724.86H663.30M69.95 777.33H75.95M669.30 777.33H663.30M69.95 829.81H75.95M669.30 829.81H663.30M69.95 882.29H75.95M669.30 882.29H663.30M69.95 934.77H75.95M669.30 934.77H663.30M69.95 987.24H75.95M669.30 987.24H663.30M69.95 1039.72H75.95M669.30 1039.72H663.30" stroke="#5e5e5e" stroke-width="1.2" fill="none"/>
<path d="M69.95 619.90H669.30" stroke="#6f6f6f" stroke-width="1.5" fill="none"/>
<path d="M69.95 619.90V1092.20" stroke="#8f8f8f" stroke-width="1.5" fill="none"/>
<path d="M69.95 1092.20H669.30" stroke="#b2b2b2" stroke-width="1.8" fill="none"/>
<path d="M669.30 619.90V1092.20" stroke="#c2c2c2" stroke-width="1.8" fill="none"/>
<clipPath id="c2"><rect x="69.95" y="616.90" width="599.35" height="475.30"/></clipPath>
<polyline clip-path="url(#c2)" points="69.95,840.59 72.30,841.39 74.65,842.18 77.00,842.94 79.35,843.68 81.70,844.39 84.04,845.08 86.39,845.75 88.74,846.40 91.09,847.04 93.44,847.67 95.79,848.28 98.14,848.88 100.49,849.48 102.84,850.07 105.19,850.65 107.54,851.23 109.89,851.80 112.23,852.37 114.58,852.94 116.93,853.51 119.28,854.08 121.63,854.65 123.98,855.22 126.33,855.80 128.68,856.38 131.03,856.97 133.38,857.56 135.73,858.16 138.07,858.76 140.42,859.37 142.77,859.99 145.12,860.62 147.47,861.25 149.82,861.90 152.17,862.55 154.52,863.21 156.87,863.89 159.22,864.57 161.57,865.26 163.92,865.97 166.26,866.68 168.61,867.41 170.96,868.14 173.31,868.89 175.66,869.65 178.01,870.42 180.36,871.20 182.71,871.99 185.06,872.79 187.41,873.61 189.76,874.43 192.10,875.27 194.45,876.12 196.80,876.97 199.15,877.84 201.50,878.72 203.85,879.61 206.20,880.52 208.55,881.43 210.90,882.35 213.25,883.29 215.60,884.23 217.95,885.18 220.29,886.15 222.64,887.13 224.99,888.11 227.34,889.11 229.69,890.11 232.04,891.13 234.39,892.16 236.74,893.20 239.09,894.25 241.44,895.31 243.79,896.38 246.13,897.46 248.48,898.55 250.83,899.65 253.18,900.77 255.53,901.89 257.88,903.03 260.23,904.18 262.58,905.34 264.93,906.52 267.28,907.71 269.63,908.91 271.98,910.13 274.32,911.37 276.67,912.61 279.02,913.88 281.37,915.16 283.72,916.46 286.07,917.77 288.42,919.11 290.77,920.47 293.12,921.84 295.47,923.24 297.82,924.66 300.16,926.11 302.51,927.58 304.86,929.08 307.21,930.60 309.56,932.15 311.91,933.74 314.26,935.35 316.61,937.00 318.96,938.69 321.31,940.41 323.66,942.17 326.01,943.96 328.35,945.81 330.70,947.69 333.05,949.62 335.40,951.60 337.75,953.63 340.10,955.71 342.45,957.85 344.80,960.05 347.15,962.30 349.50,964.62 351.85,967.00 354.19,969.45 356.54,971.98 358.89,974.57 361.24,977.25 363.59,980.01 365.94,982.84 368.29,985.77 370.64,988.79 372.99,991.90 375.34,995.11 377.69,998.42 380.04,1001.83 382.38,1005.35 384.73,1008.99 387.08,1012.77 389.43,1016.62 391.78,1020.54 394.13,1024.57 396.48,1028.74 398.83,1033.08 401.18,1037.64 403.53,1042.49 405.88,1047.90 408.22,1053.51 410.57,1059.18 412.92,1065.31 415.27,1072.60 417.62,1079.44 419.97,1084.85 419.97,1084.85 420.21,1085.24 420.45,1085.64 420.69,1086.04 420.93,1086.42 421.18,1086.79 421.42,1087.12 421.66,1087.42 421.90,1087.66 422.14,1087.85 422.38,1087.96 422.62,1088.00 422.86,1087.97 423.10,1087.88 423.34,1087.75 423.58,1087.55 423.83,1087.31 424.07,1087.02 424.31,1086.68 424.55,1086.29 424.79,1085.85 425.03,1084.78 425.27,1082.94 425.51,1080.67 425.75,1078.31 425.99,1076.22 426.23,1074.38 426.48,1072.51 426.72,1070.36 426.96,1067.81 427.20,1064.95 427.44,1061.85 427.68,1058.60 427.92,1054.63 428.16,1050.58 428.40,1047.75 428.64,1046.05 428.89,1044.79 429.13,1043.65 429.37,1042.27 429.61,1040.31 429.85,1037.32 430.09,1033.30 430.33,1028.43 430.57,1022.91 430.81,1016.89 431.05,1010.58 431.29,1004.14 431.54,997.75 431.78,991.60 432.02,985.83 432.26,980.00 432.50,973.94 432.74,967.76 432.98,961.56 433.22,955.41 433.46,949.43 433.70,943.69 433.95,938.31 434.19,933.35 434.43,928.68 434.67,924.23 434.91,919.95 435.15,915.83 435.39,911.82 435.63,907.92 435.87,904.07 436.11,900.27 436.35,896.47 436.60,892.66 436.84,888.80 437.08,884.86 437.32,880.83 437.56,876.74 437.80,872.61 438.04,868.47 438.28,864.32 438.52,860.17 438.76,856.04 439.01,851.92 439.25,847.83 439.49,843.78 439.73,839.79 439.97,835.86 440.21,832.00 440.45,828.21 440.69,824.47 440.93,820.78 441.17,817.11 441.41,813.49 441.66,809.90 441.90,806.34 442.14,802.82 442.38,799.33 442.62,795.87 442.86,792.44 443.10,789.04 443.34,785.66 443.58,782.31 443.82,778.99 444.06,775.69 444.31,772.42 444.55,769.19 444.79,765.99 445.03,762.81 445.27,759.67 445.51,756.54 445.75,753.44 445.99,750.36 446.23,747.29 446.47,744.24 446.72,741.20 446.96,738.17 447.20,735.15 447.44,732.13 447.68,729.12 447.92,726.11 448.16,723.09 448.40,720.03 448.64,716.96 448.88,713.86 449.12,710.76 449.37,707.65 449.61,704.55 449.85,701.46 450.09,698.40 450.33,695.36 450.57,692.37 450.81,689.42 451.05,686.53 451.29,683.70 451.53,680.94 451.78,678.26 452.02,675.66 452.26,673.17 452.50,670.75 452.74,668.34 452.98,665.94 453.22,663.56 453.46,661.21 453.70,658.89 453.94,656.60 454.18,654.36 454.43,652.18 454.67,650.05 454.91,647.98 455.15,645.99 455.39,644.08 455.63,642.26 455.87,640.53 456.11,638.89 456.35,637.37 456.59,635.96 456.83,634.64 457.08,633.34 457.32,632.07 457.56,630.85 457.80,629.67 458.04,628.56 458.28,627.51 458.52,626.55 458.76,625.67 459.00,624.89 459.24,624.21 459.49,623.66 459.73,623.18 459.97,622.72 460.21,622.27 460.45,621.85 460.69,621.46 460.93,621.10 461.17,620.79 461.41,620.54 461.65,620.34 461.89,620.21 462.14,620.16 462.38,620.17 462.62,620.20 462.86,620.25 463.10,620.33 463.34,620.42 463.58,620.53 463.82,620.65 464.06,620.79 464.30,620.95 464.55,621.12 464.79,621.30 465.03,621.50 465.27,621.70 465.51,621.92 465.75,622.14 465.99,622.37 466.23,622.61 466.47,622.85 466.71,623.09 466.95,623.34 467.20,623.59 467.44,623.85 467.68,624.10 467.92,624.37 467.92,624.37 468.68,625.43 469.45,626.76 470.21,628.28 470.97,629.89 471.74,631.51 472.50,633.07 473.26,634.62 474.03,636.25 474.79,637.92 475.55,639.59 476.32,641.25 477.08,642.85 477.84,644.37 478.61,645.79 479.37,647.17 480.14,648.52 480.90,649.83 481.66,651.09 482.43,652.30 483.19,653.43 483.95,654.50 484.72,655.50 485.48,656.45 486.24,657.36 487.01,658.24 487.77,659.08 488.53,659.90 489.30,660.70 490.06,661.48 490.82,662.24 491.59,663.00 492.35,663.76 493.12,664.51 493.88,665.27 494.64,666.04 495.41,666.82 496.17,667.62 496.93,668.45 497.70,669.30 498.46,670.16 499.22,671.03 499.99,671.92 500.75,672.82 501.51,673.72 502.28,674.62 503.04,675.53 503.80,676.44 504.57,677.35 505.33,678.25 506.10,679.15 506.86,680.05 507.62,680.93 508.39,681.81 509.15,682.67 509.91,683.52 510.68,684.35 511.44,685.16 512.20,685.95 512.97,686.72 513.73,687.47 514.49,688.19 515.26,688.90 516.02,689.59 516.79,690.27 517.55,690.94 518.31,691.61 519.08,692.27 519.84,692.94 520.60,693.61 521.37,694.29 522.13,694.98 522.89,695.69 523.66,696.41 524.42,697.15 525.18,697.92 525.95,698.72 526.71,699.56 527.47,700.43 528.24,701.33 529.00,702.24 529.77,703.17 530.53,704.10 531.29,705.04 532.06,705.96 532.82,706.87 533.58,707.76 534.35,708.68 535.11,709.72 535.87,710.77 536.64,711.67 537.40,712.27 538.16,712.48 538.93,712.57 539.69,712.58 540.45,712.58 541.22,712.58 541.98,712.58 542.75,712.58 543.51,712.58 544.27,712.58 545.04,712.58 545.80,712.58 546.56,712.58 547.33,712.58 548.09,712.58 548.85,712.58 549.62,712.58 550.38,712.58 551.14,712.58 551.91,712.58 552.67,712.58 553.44,712.58 554.20,712.58 554.96,712.58 555.73,712.58 556.49,712.58 557.25,712.58 558.02,712.58 558.78,712.58" fill="none" stroke="#0072BD" stroke-width="2.6" stroke-linejoin="round" stroke-linecap="round"/>
<text transform="translate(61.60 627.30) scale(1.08 1)" text-anchor="end" style="font-family:'Liberation Sans',Arial,sans-serif;font-size:17.6px" fill="#262626" stroke="#262626" stroke-width="0.22">0</text>
<text transform="translate(61.60 679.78) scale(1.08 1)" text-anchor="end" style="font-family:'Liberation Sans',Arial,sans-serif;font-size:17.6px" fill="#262626" stroke="#262626" stroke-width="0.22">-10</text>
<text transform="translate(61.60 732.26) scale(1.08 1)" text-anchor="end" style="font-family:'Liberation Sans',Arial,sans-serif;font-size:17.6px" fill="#262626" stroke="#262626" stroke-width="0.22">-20</text>
<text transform="translate(61.60 784.73) scale(1.08 1)" text-anchor="end" style="font-family:'Liberation Sans',Arial,sans-serif;font-size:17.6px" fill="#262626" stroke="#262626" stroke-width="0.22">-30</text>
<text transform="translate(61.60 837.21) scale(1.08 1)" text-anchor="end" style="font-family:'Liberation Sans',Arial,sans-serif;font-size:17.6px" fill="#262626" stroke="#262626" stroke-width="0.22">-40</text>
<text transform="translate(61.60 889.69) scale(1.08 1)" text-anchor="end" style="font-family:'Liberation Sans',Arial,sans-serif;font-size:17.6px" fill="#262626" stroke="#262626" stroke-width="0.22">-50</text>
<text transform="translate(61.60 942.17) scale(1.08 1)" text-anchor="end" style="font-family:'Liberation Sans',Arial,sans-serif;font-size:17.6px" fill="#262626" stroke="#262626" stroke-width="0.22">-60</text>
<text transform="translate(61.60 994.64) scale(1.08 1)" text-anchor="end" style="font-family:'Liberation Sans',Arial,sans-serif;font-size:17.6px" fill="#262626" stroke="#262626" stroke-width="0.22">-70</text>
<text transform="translate(61.60 1047.12) scale(1.08 1)" text-anchor="end" style="font-family:'Liberation Sans',Arial,sans-serif;font-size:17.6px" fill="#262626" stroke="#262626" stroke-width="0.22">-80</text>
<text transform="translate(61.60 1099.60) scale(1.08 1)" text-anchor="end" style="font-family:'Liberation Sans',Arial,sans-serif;font-size:17.6px" fill="#262626" stroke="#262626" stroke-width="0.22">-90</text>
<text transform="translate(69.95 1119.20) scale(1.08 1)" text-anchor="middle" style="font-family:'Liberation Sans',Arial,sans-serif;font-size:17.6px" fill="#262626" stroke="#262626" stroke-width="0.22">0</text>
<text transform="translate(189.82 1119.20) scale(1.08 1)" text-anchor="middle" style="font-family:'Liberation Sans',Arial,sans-serif;font-size:17.6px" fill="#262626" stroke="#262626" stroke-width="0.22">50</text>
<text transform="translate(309.69 1119.20) scale(1.08 1)" text-anchor="middle" style="font-family:'Liberation Sans',Arial,sans-serif;font-size:17.6px" fill="#262626" stroke="#262626" stroke-width="0.22">100</text>
<text transform="translate(429.56 1119.20) scale(1.08 1)" text-anchor="middle" style="font-family:'Liberation Sans',Arial,sans-serif;font-size:17.6px" fill="#262626" stroke="#262626" stroke-width="0.22">150</text>
<text transform="translate(549.43 1119.20) scale(1.08 1)" text-anchor="middle" style="font-family:'Liberation Sans',Arial,sans-serif;font-size:17.6px" fill="#262626" stroke="#262626" stroke-width="0.22">200</text>
<text transform="translate(669.30 1119.20) scale(1.08 1)" text-anchor="middle" style="font-family:'Liberation Sans',Arial,sans-serif;font-size:17.6px" fill="#262626" stroke="#262626" stroke-width="0.22">250</text>
<text x="119.85" y="23.90" style="font-family:'Liberation Serif','Times New Roman',serif;font-size:28.6px" fill="#000" stroke="#fff" stroke-width="0.3" textLength="46.70" lengthAdjust="spacingAndGlyphs"><tspan style="font-size:31.5px">(</tspan>b<tspan style="font-size:31.5px">)</tspan>.</text>
<text x="179.67" y="23.90" style="font-family:'Liberation Serif','Times New Roman',serif;font-size:28.6px" fill="#000" stroke="#fff" stroke-width="0.3" textLength="205.32" lengthAdjust="spacingAndGlyphs"><tspan style="font-size:30.8px">E</tspan>arth-to-Venus:</text>
<text x="399.88" y="23.90" style="font-family:'Liberation Serif','Times New Roman',serif;font-size:28.6px" fill="#000" stroke="#fff" stroke-width="0.3" textLength="101.51" lengthAdjust="spacingAndGlyphs"><tspan style="font-size:30.8px">T</tspan>ransfer</text>
<text x="515.52" y="23.90" style="font-family:'Liberation Serif','Times New Roman',serif;font-size:28.6px" fill="#000" stroke="#fff" stroke-width="0.3" textLength="124.54" lengthAdjust="spacingAndGlyphs">trajectory</text>
<text x="121.66" y="607.50" style="font-family:'Liberation Serif','Times New Roman',serif;font-size:28.6px" fill="#000" stroke="#fff" stroke-width="0.3" textLength="46.37" lengthAdjust="spacingAndGlyphs"><tspan style="font-size:31.5px">(</tspan>b<tspan style="font-size:31.5px">)</tspan>.</text>
<text x="182.18" y="607.50" style="font-family:'Liberation Serif','Times New Roman',serif;font-size:28.6px" fill="#000" stroke="#fff" stroke-width="0.3" textLength="203.58" lengthAdjust="spacingAndGlyphs"><tspan style="font-size:30.8px">E</tspan>arth-to-Venus:</text>
<text x="397.32" y="607.50" style="font-family:'Liberation Serif','Times New Roman',serif;font-size:28.6px" fill="#000" stroke="#fff" stroke-width="0.3" textLength="105.05" lengthAdjust="spacingAndGlyphs"><tspan style="font-size:30.8px">S</tspan>teering</text>
<text x="513.78" y="607.50" style="font-family:'Liberation Serif','Times New Roman',serif;font-size:28.6px" fill="#000" stroke="#fff" stroke-width="0.3" textLength="70.17" lengthAdjust="spacingAndGlyphs">angle,</text>
<text x="598.66" y="607.50" style="font-family:'Liberation Serif','Times New Roman',serif;font-size:28.6px;font-style:italic" fill="#000" stroke="#fff" stroke-width="0.3" textLength="16.80" lengthAdjust="spacingAndGlyphs">α</text>
<text x="280.38" y="563.90" style="font-family:'Liberation Serif','Times New Roman',serif;font-size:22.8px;font-style:italic" fill="#000" stroke="#fff" stroke-width="0.12" textLength="11.16" lengthAdjust="spacingAndGlyphs">x</text>
<text x="292.38" y="563.90" style="font-family:'Liberation Serif','Times New Roman',serif;font-size:22.8px" fill="#000" stroke="#fff" stroke-width="0.12" textLength="134.77" lengthAdjust="spacingAndGlyphs">-coordinate,</text>
<text x="436.03" y="563.90" style="font-family:'Liberation Serif','Times New Roman',serif;font-size:22.8px" fill="#000" stroke="#fff" stroke-width="0.12" textLength="46.14" lengthAdjust="spacingAndGlyphs"><tspan style="font-size:26.6px">(</tspan>au<tspan style="font-size:26.6px">)</tspan></text>
<text transform="rotate(-90)" x="-371.92" y="26.20" style="font-family:'Liberation Serif','Times New Roman',serif;font-size:22.8px;font-style:italic" fill="#000" stroke="#fff" stroke-width="0.12" textLength="10.04" lengthAdjust="spacingAndGlyphs">y</text>
<text transform="rotate(-90)" x="-360.82" y="26.20" style="font-family:'Liberation Serif','Times New Roman',serif;font-size:22.8px" fill="#000" stroke="#fff" stroke-width="0.12" textLength="134.67" lengthAdjust="spacingAndGlyphs">-coordinate,</text>
<text transform="rotate(-90)" x="-216.61" y="26.20" style="font-family:'Liberation Serif','Times New Roman',serif;font-size:22.8px" fill="#000" stroke="#fff" stroke-width="0.12" textLength="44.32" lengthAdjust="spacingAndGlyphs"><tspan style="font-size:26.6px">(</tspan>au<tspan style="font-size:26.6px">)</tspan></text>
<text x="242.13" y="1146.40" style="font-family:'Liberation Serif','Times New Roman',serif;font-size:22.8px" fill="#000" stroke="#fff" stroke-width="0.12" textLength="88.70" lengthAdjust="spacingAndGlyphs"><tspan style="font-size:24.4px">T</tspan>ransfer</text>
<text x="342.69" y="1146.40" style="font-family:'Liberation Serif','Times New Roman',serif;font-size:22.8px" fill="#000" stroke="#fff" stroke-width="0.12" textLength="50.59" lengthAdjust="spacingAndGlyphs">time</text>
<text x="400.40" y="1146.40" style="font-family:'Liberation Serif','Times New Roman',serif;font-size:22.8px;font-style:italic" fill="#000" stroke="#fff" stroke-width="0.12" textLength="8.27" lengthAdjust="spacingAndGlyphs">t</text>
<text x="411.14" y="1146.40" style="font-family:'Liberation Serif','Times New Roman',serif;font-size:22.8px" fill="#000" stroke="#fff" stroke-width="0.12" textLength="6.52" lengthAdjust="spacingAndGlyphs">,</text>
<text x="426.76" y="1146.40" style="font-family:'Liberation Serif','Times New Roman',serif;font-size:22.8px" fill="#000" stroke="#fff" stroke-width="0.12" textLength="68.60" lengthAdjust="spacingAndGlyphs"><tspan style="font-size:26.6px">(</tspan>days<tspan style="font-size:26.6px">)</tspan></text>
<text transform="rotate(-90)" x="-884.71" y="20.80" style="font-family:'Liberation Serif','Times New Roman',serif;font-size:22.8px;font-style:italic" fill="#000" stroke="#fff" stroke-width="0.12" textLength="14.47" lengthAdjust="spacingAndGlyphs">α</text>
<text transform="rotate(-90)" x="-867.03" y="20.80" style="font-family:'Liberation Serif','Times New Roman',serif;font-size:22.8px" fill="#000" stroke="#fff" stroke-width="0.12" textLength="5.54" lengthAdjust="spacingAndGlyphs">,</text>
<text transform="rotate(-90)" x="-855.12" y="20.80" style="font-family:'Liberation Serif','Times New Roman',serif;font-size:22.8px" fill="#000" stroke="#fff" stroke-width="0.12" textLength="26.30" lengthAdjust="spacingAndGlyphs"><tspan style="font-size:26.6px">(</tspan>°<tspan style="font-size:26.6px">)</tspan></text>
</svg>
</body></html>
